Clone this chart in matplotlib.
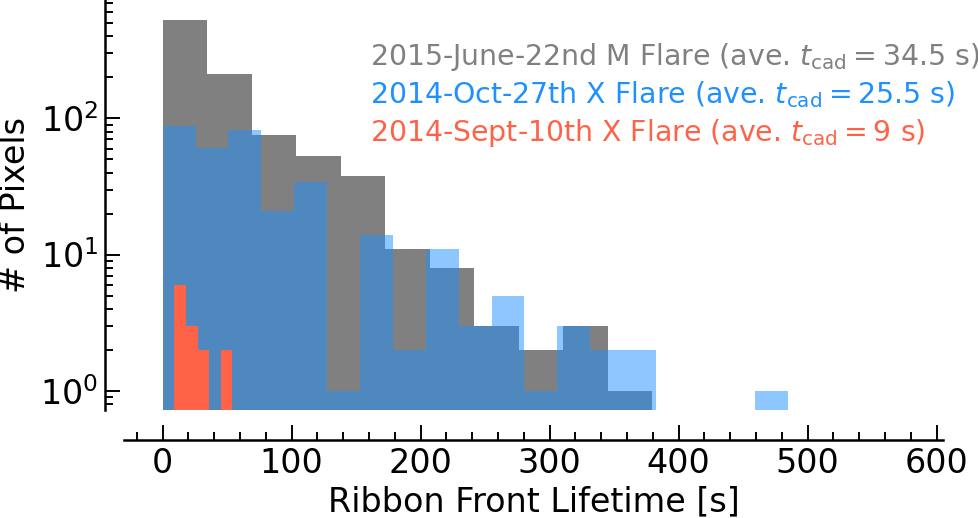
import numpy as np
import matplotlib
matplotlib.use("Agg")
import matplotlib.pyplot as plt

# bin widths = average cadence of each flare [s]
cad_june = 34.5
cad_oct = 25.5
cad_sept = 9.0

# histogram counts (one value per bin, bins start at 0 s)
counts_june = [525, 212, 75, 53, 38, 11, 8, 3, 2, 3, 1]
counts_oct = [88, 61, 82, 21, 34, 1, 14, 2, 11, 3, 5, 1, 3, 2, 2, 0, 0, 0, 1]
counts_sept = [0, 6, 3, 2, 0, 2]

labels = [
    r"2015-June-22nd M Flare (ave. $t_{\rm cad} = 34.5$ s)",
    r"2014-Oct-27th X Flare (ave. $t_{\rm cad} = 25.5$ s)",
    r"2014-Sept-10th X Flare (ave. $t_{\rm cad} = 9$ s)",
]
colors = ["gray", "dodgerblue", "tomato"]
alphas = [1.0, 0.5, 1.0]

W, H = 979, 518
fig = plt.figure(figsize=(W / 100, H / 100), dpi=100)
ax = fig.add_axes([124 / W, (H - 410) / H, (943 - 124) / W, 410 / H])

for counts, cad, col, a in zip([counts_june, counts_oct, counts_sept],
                               [cad_june, cad_oct, cad_sept], colors, alphas):
    edges = np.arange(len(counts) + 1) * cad
    ax.hist(edges[:-1], bins=edges, weights=counts, color=col, alpha=a,
            log=True, linewidth=0)

ax.set_xlim(-30, 605)
ax.set_ylim(0.722, 740)

# despined, offset axes
ax.spines["top"].set_visible(False)
ax.spines["right"].set_visible(False)
ax.spines["left"].set_position(("outward", 19 * 0.72))
ax.spines["bottom"].set_position(("outward", 30 * 0.72))
for s in ["left", "bottom"]:
    ax.spines[s].set_linewidth(1.8)

ax.set_xticks(np.arange(0, 601, 100))
ax.set_xticks(np.arange(-20, 601, 20), minor=True)
ax.tick_params(which="both", direction="in", width=1.4, labelsize=24)
ax.tick_params(which="major", length=11, pad=5)
ax.tick_params(which="minor", length=6)

ax.set_xlabel("Ribbon Front Lifetime [s]", fontsize=24, labelpad=4)
ax.set_ylabel("# of Pixels", fontsize=24, labelpad=6)

ys = [65, 103, 141]
for lab, col, y in zip(labels, colors, ys):
    fig.text(370 / W, 1 - y / H, lab, color=col, fontsize=20.4,
             ha="left", va="baseline")

fig.savefig("out.png", dpi=100)
